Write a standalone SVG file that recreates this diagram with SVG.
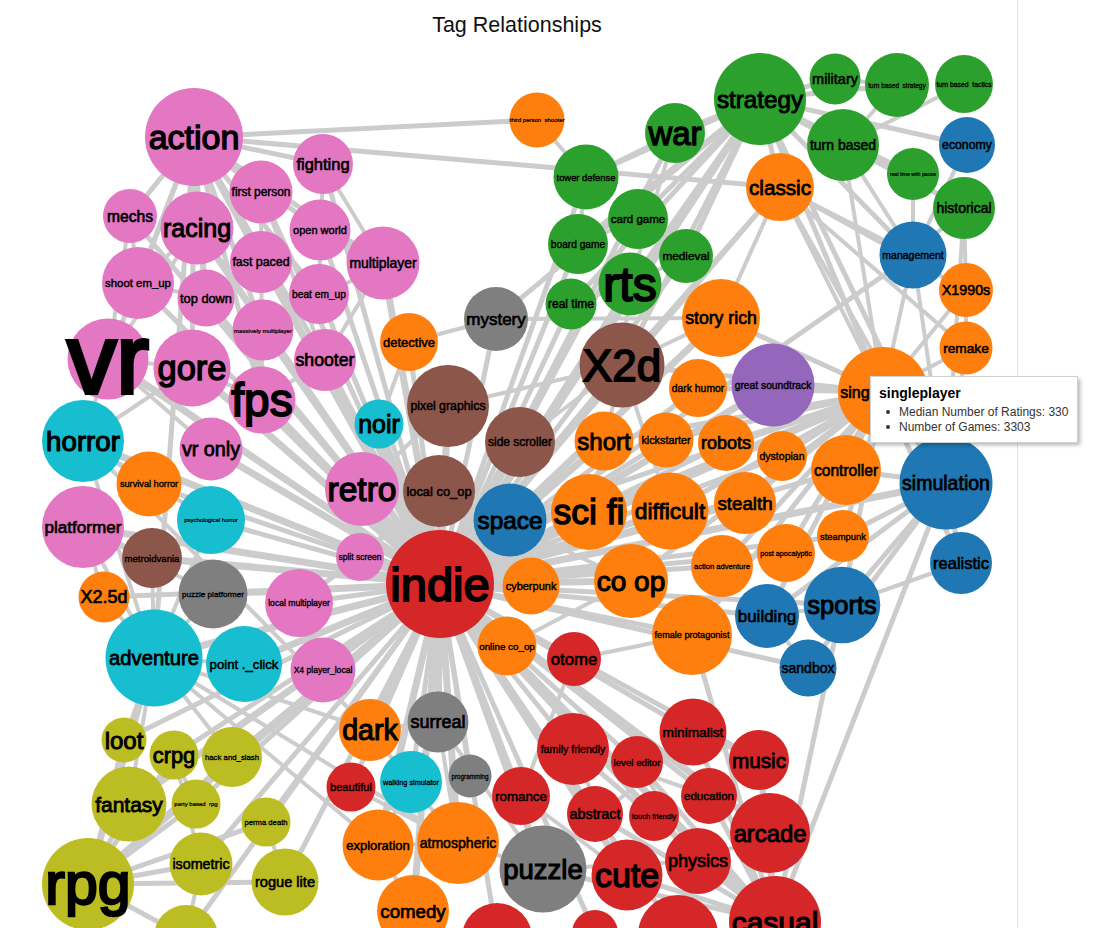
<svg xmlns="http://www.w3.org/2000/svg" width="1096" height="928" viewBox="0 0 1096 928">
<style>
text{font-family:"Liberation Sans",Arial,Helvetica,sans-serif;text-anchor:middle;dominant-baseline:central;fill:#000;stroke:#000;stroke-width:0.04em}
#links line{stroke:#ccc;fill:none}
.l1{stroke-width:7}.l2{stroke-width:5}.l3{stroke-width:4}
.pk circle{fill:#e377c2}.cy circle{fill:#17becf}.br circle{fill:#8c564b}.gy circle{fill:#7f7f7f}
.or circle{fill:#ff7f0e}.gr circle{fill:#2ca02c}.bl circle{fill:#1f77b4}.pu circle{fill:#9467bd}
.rd circle{fill:#d62728}.ol circle{fill:#bcbd22}
.tt text{text-anchor:start;dominant-baseline:auto;stroke:none}
</style>
<defs><filter id="blur" x="-10%" y="-20%" width="120%" height="140%"><feGaussianBlur stdDeviation="2"/></filter></defs>
<rect width="1096" height="928" fill="#fff"/>
<line x1="1017.5" y1="0" x2="1017.5" y2="928" stroke="#e3e3e3" stroke-width="1"/>
<text x="517" y="25" style="font-size:21.5px;stroke:none;fill:#111">Tag Relationships</text>
<g id="links">
<line class="l1" x1="440" y1="584" x2="108" y2="359"/>
<line class="l1" x1="440" y1="584" x2="83" y2="441"/>
<line class="l1" x1="440" y1="584" x2="83" y2="527"/>
<line class="l1" x1="440" y1="584" x2="154" y2="658"/>
<line class="l1" x1="440" y1="584" x2="194" y2="137"/>
<line class="l1" x1="440" y1="584" x2="192" y2="368"/>
<line class="l1" x1="440" y1="584" x2="262" y2="400"/>
<line class="l1" x1="440" y1="584" x2="362" y2="489"/>
<line class="l1" x1="440" y1="584" x2="448" y2="406"/>
<line class="l1" x1="440" y1="584" x2="622" y2="365"/>
<line class="l1" x1="440" y1="584" x2="510" y2="520"/>
<line class="l1" x1="440" y1="584" x2="589" y2="512"/>
<line class="l1" x1="440" y1="584" x2="604" y2="441"/>
<line class="l1" x1="440" y1="584" x2="670" y2="511"/>
<line class="l1" x1="440" y1="584" x2="631" y2="581"/>
<line class="l1" x1="440" y1="584" x2="883" y2="392"/>
<line class="l1" x1="440" y1="584" x2="946" y2="483"/>
<line class="l1" x1="440" y1="584" x2="775" y2="922"/>
<line class="l1" x1="440" y1="584" x2="543" y2="869"/>
<line class="l1" x1="440" y1="584" x2="627" y2="875"/>
<line class="l1" x1="440" y1="584" x2="458" y2="843"/>
<line class="l1" x1="440" y1="584" x2="370" y2="730"/>
<line class="l1" x1="440" y1="584" x2="88" y2="884"/>
<line class="l1" x1="440" y1="584" x2="760" y2="99"/>
<line class="l1" x1="440" y1="584" x2="721" y2="318"/>
<line class="l1" x1="440" y1="584" x2="773" y2="385"/>
<line class="l1" x1="440" y1="584" x2="439" y2="491"/>
<line class="l1" x1="440" y1="584" x2="520" y2="442"/>
<line class="l1" x1="440" y1="584" x2="152" y2="558"/>
<line class="l1" x1="440" y1="584" x2="244" y2="664"/>
<line class="l1" x1="440" y1="584" x2="213" y2="594"/>
<line class="l1" x1="440" y1="584" x2="325" y2="360"/>
<line class="l1" x1="440" y1="584" x2="211" y2="449"/>
<line class="l1" x1="440" y1="584" x2="197" y2="228"/>
<line class="l1" x1="440" y1="584" x2="383" y2="263"/>
<line class="l1" x1="440" y1="584" x2="378" y2="845"/>
<line class="l1" x1="440" y1="584" x2="438" y2="722"/>
<line class="l1" x1="440" y1="584" x2="413" y2="911"/>
<line class="l1" x1="440" y1="584" x2="770" y2="833"/>
<line class="l1" x1="440" y1="584" x2="129" y2="804"/>
<line class="l2" x1="440" y1="584" x2="211" y2="520"/>
<line class="l2" x1="440" y1="584" x2="149" y2="484"/>
<line class="l2" x1="440" y1="584" x2="104" y2="597"/>
<line class="l2" x1="440" y1="584" x2="360" y2="557"/>
<line class="l2" x1="440" y1="584" x2="299" y2="603"/>
<line class="l2" x1="440" y1="584" x2="323" y2="670"/>
<line class="l2" x1="440" y1="584" x2="379" y2="424"/>
<line class="l2" x1="440" y1="584" x2="409" y2="342"/>
<line class="l2" x1="440" y1="584" x2="496" y2="319"/>
<line class="l2" x1="440" y1="584" x2="571" y2="304"/>
<line class="l2" x1="440" y1="584" x2="630" y2="284"/>
<line class="l2" x1="440" y1="584" x2="638" y2="219"/>
<line class="l2" x1="440" y1="584" x2="578" y2="244"/>
<line class="l2" x1="440" y1="584" x2="586" y2="177"/>
<line class="l2" x1="440" y1="584" x2="531" y2="586"/>
<line class="l2" x1="440" y1="584" x2="507" y2="646"/>
<line class="l2" x1="440" y1="584" x2="574" y2="659"/>
<line class="l2" x1="440" y1="584" x2="692" y2="635"/>
<line class="l2" x1="440" y1="584" x2="666" y2="440"/>
<line class="l2" x1="440" y1="584" x2="726" y2="443"/>
<line class="l2" x1="440" y1="584" x2="698" y2="388"/>
<line class="l2" x1="440" y1="584" x2="745" y2="503"/>
<line class="l2" x1="440" y1="584" x2="722" y2="566"/>
<line class="l2" x1="440" y1="584" x2="786" y2="553"/>
<line class="l2" x1="440" y1="584" x2="782" y2="456"/>
<line class="l2" x1="440" y1="584" x2="846" y2="470"/>
<line class="l2" x1="440" y1="584" x2="843" y2="536"/>
<line class="l2" x1="440" y1="584" x2="767" y2="616"/>
<line class="l2" x1="440" y1="584" x2="842" y2="605"/>
<line class="l2" x1="440" y1="584" x2="808" y2="668"/>
<line class="l2" x1="440" y1="584" x2="351" y2="787"/>
<line class="l2" x1="440" y1="584" x2="411" y2="782"/>
<line class="l2" x1="440" y1="584" x2="470" y2="776"/>
<line class="l2" x1="440" y1="584" x2="573" y2="749"/>
<line class="l2" x1="440" y1="584" x2="521" y2="796"/>
<line class="l2" x1="440" y1="584" x2="595" y2="814"/>
<line class="l2" x1="440" y1="584" x2="693" y2="732"/>
<line class="l2" x1="440" y1="584" x2="759" y2="760"/>
<line class="l2" x1="440" y1="584" x2="698" y2="861"/>
<line class="l2" x1="440" y1="584" x2="637" y2="762"/>
<line class="l2" x1="440" y1="584" x2="709" y2="796"/>
<line class="l2" x1="440" y1="584" x2="654" y2="816"/>
<line class="l2" x1="440" y1="584" x2="124" y2="740"/>
<line class="l2" x1="440" y1="584" x2="174" y2="755"/>
<line class="l2" x1="440" y1="584" x2="232" y2="757"/>
<line class="l2" x1="440" y1="584" x2="201" y2="864"/>
<line class="l2" x1="440" y1="584" x2="285" y2="882"/>
<line class="l2" x1="440" y1="584" x2="266" y2="822"/>
<line class="l2" x1="440" y1="584" x2="196" y2="804"/>
<line class="l2" x1="440" y1="584" x2="138" y2="283"/>
<line class="l2" x1="440" y1="584" x2="206" y2="298"/>
<line class="l2" x1="440" y1="584" x2="261" y2="192"/>
<line class="l2" x1="440" y1="584" x2="261" y2="262"/>
<line class="l2" x1="440" y1="584" x2="320" y2="230"/>
<line class="l2" x1="440" y1="584" x2="319" y2="294"/>
<line class="l2" x1="440" y1="584" x2="263" y2="330"/>
<line class="l2" x1="440" y1="584" x2="130" y2="216"/>
<line class="l2" x1="440" y1="584" x2="323" y2="164"/>
<line class="l2" x1="440" y1="584" x2="780" y2="187"/>
<line class="l2" x1="440" y1="584" x2="913" y2="255"/>
<line class="l2" x1="440" y1="584" x2="675" y2="133"/>
<line class="l2" x1="440" y1="584" x2="686" y2="256"/>
<line class="l2" x1="440" y1="584" x2="497" y2="938"/>
<line class="l2" x1="440" y1="584" x2="595" y2="933"/>
<line class="l2" x1="440" y1="584" x2="678" y2="935"/>
<line class="l2" x1="440" y1="584" x2="186" y2="937"/>
<line class="l2" x1="194" y1="137" x2="197" y2="228"/>
<line class="l2" x1="194" y1="137" x2="130" y2="216"/>
<line class="l2" x1="194" y1="137" x2="261" y2="192"/>
<line class="l2" x1="194" y1="137" x2="323" y2="164"/>
<line class="l2" x1="194" y1="137" x2="138" y2="283"/>
<line class="l2" x1="194" y1="137" x2="206" y2="298"/>
<line class="l2" x1="194" y1="137" x2="261" y2="262"/>
<line class="l2" x1="194" y1="137" x2="320" y2="230"/>
<line class="l2" x1="194" y1="137" x2="319" y2="294"/>
<line class="l2" x1="194" y1="137" x2="263" y2="330"/>
<line class="l2" x1="194" y1="137" x2="325" y2="360"/>
<line class="l2" x1="194" y1="137" x2="383" y2="263"/>
<line class="l2" x1="194" y1="137" x2="262" y2="400"/>
<line class="l2" x1="194" y1="137" x2="192" y2="368"/>
<line class="l2" x1="194" y1="137" x2="108" y2="359"/>
<line class="l2" x1="194" y1="137" x2="537" y2="120"/>
<line class="l2" x1="194" y1="137" x2="780" y2="187"/>
<line class="l2" x1="194" y1="137" x2="154" y2="658"/>
<line class="l3" x1="197" y1="228" x2="138" y2="283"/>
<line class="l3" x1="197" y1="228" x2="206" y2="298"/>
<line class="l3" x1="197" y1="228" x2="108" y2="359"/>
<line class="l3" x1="130" y1="216" x2="138" y2="283"/>
<line class="l3" x1="130" y1="216" x2="108" y2="359"/>
<line class="l3" x1="261" y1="192" x2="262" y2="400"/>
<line class="l3" x1="261" y1="192" x2="325" y2="360"/>
<line class="l3" x1="261" y1="262" x2="206" y2="298"/>
<line class="l3" x1="138" y1="283" x2="206" y2="298"/>
<line class="l3" x1="138" y1="283" x2="108" y2="359"/>
<line class="l3" x1="323" y1="164" x2="319" y2="294"/>
<line class="l3" x1="323" y1="164" x2="383" y2="263"/>
<line class="l3" x1="320" y1="230" x2="383" y2="263"/>
<line class="l3" x1="263" y1="330" x2="383" y2="263"/>
<line class="l3" x1="325" y1="360" x2="262" y2="400"/>
<line class="l3" x1="325" y1="360" x2="383" y2="263"/>
<line class="l3" x1="192" y1="368" x2="108" y2="359"/>
<line class="l3" x1="192" y1="368" x2="262" y2="400"/>
<line class="l3" x1="108" y1="359" x2="211" y2="449"/>
<line class="l3" x1="108" y1="359" x2="83" y2="441"/>
<line class="l3" x1="83" y1="441" x2="149" y2="484"/>
<line class="l3" x1="83" y1="441" x2="211" y2="520"/>
<line class="l3" x1="192" y1="368" x2="83" y2="441"/>
<line class="l3" x1="83" y1="527" x2="152" y2="558"/>
<line class="l3" x1="83" y1="527" x2="213" y2="594"/>
<line class="l3" x1="83" y1="527" x2="104" y2="597"/>
<line class="l3" x1="83" y1="527" x2="154" y2="658"/>
<line class="l3" x1="83" y1="441" x2="154" y2="658"/>
<line class="l3" x1="154" y1="658" x2="244" y2="664"/>
<line class="l3" x1="154" y1="658" x2="213" y2="594"/>
<line class="l3" x1="154" y1="658" x2="104" y2="597"/>
<line class="l3" x1="154" y1="658" x2="152" y2="558"/>
<line class="l3" x1="154" y1="658" x2="211" y2="520"/>
<line class="l3" x1="299" y1="603" x2="360" y2="557"/>
<line class="l3" x1="299" y1="603" x2="323" y2="670"/>
<line class="l3" x1="439" y1="491" x2="360" y2="557"/>
<line class="l3" x1="439" y1="491" x2="299" y2="603"/>
<line class="l3" x1="631" y1="581" x2="507" y2="646"/>
<line class="l3" x1="631" y1="581" x2="439" y2="491"/>
<line class="l3" x1="362" y1="489" x2="448" y2="406"/>
<line class="l3" x1="448" y1="406" x2="622" y2="365"/>
<line class="l3" x1="622" y1="365" x2="520" y2="442"/>
<line class="l3" x1="496" y1="319" x2="409" y2="342"/>
<line class="l3" x1="379" y1="424" x2="409" y2="342"/>
<line class="l3" x1="496" y1="319" x2="721" y2="318"/>
<line class="l3" x1="622" y1="365" x2="630" y2="284"/>
<line class="l3" x1="622" y1="365" x2="721" y2="318"/>
<line class="l3" x1="622" y1="365" x2="589" y2="512"/>
<line class="l3" x1="622" y1="365" x2="670" y2="511"/>
<line class="l2" x1="760" y1="99" x2="675" y2="133"/>
<line class="l2" x1="760" y1="99" x2="835" y2="79"/>
<line class="l2" x1="760" y1="99" x2="897" y2="85"/>
<line class="l2" x1="760" y1="99" x2="843" y2="145"/>
<line class="l2" x1="760" y1="99" x2="586" y2="177"/>
<line class="l2" x1="760" y1="99" x2="638" y2="219"/>
<line class="l2" x1="760" y1="99" x2="578" y2="244"/>
<line class="l2" x1="760" y1="99" x2="686" y2="256"/>
<line class="l2" x1="760" y1="99" x2="630" y2="284"/>
<line class="l2" x1="760" y1="99" x2="571" y2="304"/>
<line class="l2" x1="760" y1="99" x2="913" y2="174"/>
<line class="l2" x1="760" y1="99" x2="964" y2="208"/>
<line class="l2" x1="760" y1="99" x2="967" y2="145"/>
<line class="l2" x1="760" y1="99" x2="913" y2="255"/>
<line class="l2" x1="760" y1="99" x2="780" y2="187"/>
<line class="l2" x1="760" y1="99" x2="946" y2="483"/>
<line class="l2" x1="760" y1="99" x2="883" y2="392"/>
<line class="l2" x1="760" y1="99" x2="622" y2="365"/>
<line class="l2" x1="760" y1="99" x2="496" y2="319"/>
<line class="l3" x1="675" y1="133" x2="586" y2="177"/>
<line class="l3" x1="675" y1="133" x2="630" y2="284"/>
<line class="l3" x1="537" y1="120" x2="586" y2="177"/>
<line class="l3" x1="835" y1="79" x2="897" y2="85"/>
<line class="l3" x1="843" y1="145" x2="897" y2="85"/>
<line class="l3" x1="843" y1="145" x2="964" y2="84"/>
<line class="l3" x1="843" y1="145" x2="913" y2="174"/>
<line class="l3" x1="843" y1="145" x2="913" y2="255"/>
<line class="l3" x1="843" y1="145" x2="964" y2="208"/>
<line class="l3" x1="843" y1="145" x2="883" y2="392"/>
<line class="l3" x1="913" y1="174" x2="913" y2="255"/>
<line class="l3" x1="964" y1="208" x2="913" y2="255"/>
<line class="l3" x1="964" y1="208" x2="966" y2="290"/>
<line class="l3" x1="964" y1="208" x2="946" y2="483"/>
<line class="l3" x1="967" y1="145" x2="913" y2="255"/>
<line class="l3" x1="638" y1="219" x2="578" y2="244"/>
<line class="l3" x1="630" y1="284" x2="571" y2="304"/>
<line class="l3" x1="686" y1="256" x2="630" y2="284"/>
<line class="l3" x1="586" y1="177" x2="578" y2="244"/>
<line class="l3" x1="966" y1="290" x2="966" y2="348"/>
<line class="l3" x1="966" y1="290" x2="883" y2="392"/>
<line class="l3" x1="966" y1="348" x2="883" y2="392"/>
<line class="l3" x1="966" y1="348" x2="946" y2="483"/>
<line class="l3" x1="780" y1="187" x2="913" y2="255"/>
<line class="l3" x1="780" y1="187" x2="883" y2="392"/>
<line class="l3" x1="780" y1="187" x2="946" y2="483"/>
<line class="l3" x1="780" y1="187" x2="622" y2="365"/>
<line class="l3" x1="780" y1="187" x2="966" y2="348"/>
<line class="l3" x1="780" y1="187" x2="966" y2="290"/>
<line class="l3" x1="780" y1="187" x2="721" y2="318"/>
<line class="l3" x1="913" y1="255" x2="883" y2="392"/>
<line class="l3" x1="913" y1="255" x2="946" y2="483"/>
<line class="l2" x1="883" y1="392" x2="721" y2="318"/>
<line class="l2" x1="883" y1="392" x2="773" y2="385"/>
<line class="l2" x1="883" y1="392" x2="698" y2="388"/>
<line class="l2" x1="883" y1="392" x2="604" y2="441"/>
<line class="l2" x1="883" y1="392" x2="726" y2="443"/>
<line class="l2" x1="883" y1="392" x2="670" y2="511"/>
<line class="l2" x1="883" y1="392" x2="589" y2="512"/>
<line class="l2" x1="883" y1="392" x2="622" y2="365"/>
<line class="l2" x1="883" y1="392" x2="510" y2="520"/>
<line class="l2" x1="883" y1="392" x2="846" y2="470"/>
<line class="l2" x1="883" y1="392" x2="745" y2="503"/>
<line class="l2" x1="883" y1="392" x2="946" y2="483"/>
<line class="l2" x1="883" y1="392" x2="842" y2="605"/>
<line class="l2" x1="883" y1="392" x2="961" y2="563"/>
<line class="l2" x1="883" y1="392" x2="782" y2="456"/>
<line class="l2" x1="883" y1="392" x2="666" y2="440"/>
<line class="l2" x1="883" y1="392" x2="843" y2="536"/>
<line class="l2" x1="883" y1="392" x2="767" y2="616"/>
<line class="l2" x1="883" y1="392" x2="786" y2="553"/>
<line class="l2" x1="883" y1="392" x2="722" y2="566"/>
<line class="l2" x1="883" y1="392" x2="631" y2="581"/>
<line class="l2" x1="883" y1="392" x2="692" y2="635"/>
<line class="l2" x1="946" y1="483" x2="961" y2="563"/>
<line class="l2" x1="946" y1="483" x2="842" y2="605"/>
<line class="l2" x1="946" y1="483" x2="767" y2="616"/>
<line class="l2" x1="946" y1="483" x2="808" y2="668"/>
<line class="l2" x1="946" y1="483" x2="775" y2="922"/>
<line class="l2" x1="946" y1="483" x2="846" y2="470"/>
<line class="l2" x1="946" y1="483" x2="843" y2="536"/>
<line class="l2" x1="842" y1="605" x2="775" y2="922"/>
<line class="l3" x1="842" y1="605" x2="767" y2="616"/>
<line class="l3" x1="842" y1="605" x2="961" y2="563"/>
<line class="l3" x1="767" y1="616" x2="808" y2="668"/>
<line class="l2" x1="775" y1="922" x2="543" y2="869"/>
<line class="l2" x1="775" y1="922" x2="627" y2="875"/>
<line class="l2" x1="775" y1="922" x2="770" y2="833"/>
<line class="l2" x1="775" y1="922" x2="759" y2="760"/>
<line class="l2" x1="775" y1="922" x2="698" y2="861"/>
<line class="l2" x1="775" y1="922" x2="693" y2="732"/>
<line class="l2" x1="775" y1="922" x2="573" y2="749"/>
<line class="l2" x1="775" y1="922" x2="709" y2="796"/>
<line class="l2" x1="775" y1="922" x2="654" y2="816"/>
<line class="l2" x1="775" y1="922" x2="595" y2="814"/>
<line class="l2" x1="775" y1="922" x2="637" y2="762"/>
<line class="l2" x1="775" y1="922" x2="692" y2="635"/>
<line class="l3" x1="543" y1="869" x2="595" y2="814"/>
<line class="l3" x1="543" y1="869" x2="698" y2="861"/>
<line class="l3" x1="543" y1="869" x2="693" y2="732"/>
<line class="l3" x1="627" y1="875" x2="573" y2="749"/>
<line class="l3" x1="627" y1="875" x2="521" y2="796"/>
<line class="l3" x1="770" y1="833" x2="759" y2="760"/>
<line class="l3" x1="770" y1="833" x2="698" y2="861"/>
<line class="l3" x1="693" y1="732" x2="759" y2="760"/>
<line class="l3" x1="637" y1="762" x2="698" y2="861"/>
<line class="l3" x1="573" y1="749" x2="709" y2="796"/>
<line class="l3" x1="543" y1="869" x2="458" y2="843"/>
<line class="l3" x1="521" y1="796" x2="574" y2="659"/>
<line class="l3" x1="574" y1="659" x2="692" y2="635"/>
<line class="l3" x1="370" y1="730" x2="438" y2="722"/>
<line class="l3" x1="370" y1="730" x2="458" y2="843"/>
<line class="l3" x1="438" y1="722" x2="458" y2="843"/>
<line class="l3" x1="438" y1="722" x2="411" y2="782"/>
<line class="l3" x1="411" y1="782" x2="378" y2="845"/>
<line class="l3" x1="378" y1="845" x2="458" y2="843"/>
<line class="l3" x1="351" y1="787" x2="458" y2="843"/>
<line class="l3" x1="378" y1="845" x2="154" y2="658"/>
<line class="l3" x1="458" y1="843" x2="154" y2="658"/>
<line class="l3" x1="370" y1="730" x2="83" y2="441"/>
<line class="l3" x1="413" y1="911" x2="378" y2="845"/>
<line class="l3" x1="438" y1="722" x2="543" y2="869"/>
<line class="l3" x1="370" y1="730" x2="154" y2="658"/>
<line class="l2" x1="88" y1="884" x2="124" y2="740"/>
<line class="l2" x1="88" y1="884" x2="174" y2="755"/>
<line class="l2" x1="88" y1="884" x2="129" y2="804"/>
<line class="l2" x1="88" y1="884" x2="232" y2="757"/>
<line class="l2" x1="88" y1="884" x2="196" y2="804"/>
<line class="l2" x1="88" y1="884" x2="201" y2="864"/>
<line class="l2" x1="88" y1="884" x2="285" y2="882"/>
<line class="l2" x1="88" y1="884" x2="266" y2="822"/>
<line class="l2" x1="88" y1="884" x2="186" y2="937"/>
<line class="l2" x1="88" y1="884" x2="154" y2="658"/>
<line class="l3" x1="129" y1="804" x2="154" y2="658"/>
<line class="l3" x1="124" y1="740" x2="154" y2="658"/>
<line class="l3" x1="174" y1="755" x2="201" y2="864"/>
<line class="l3" x1="174" y1="755" x2="196" y2="804"/>
<line class="l3" x1="285" y1="882" x2="266" y2="822"/>
<line class="l3" x1="201" y1="864" x2="186" y2="937"/>
<line class="l3" x1="232" y1="757" x2="154" y2="658"/>
</g>
<g id="nodes">
<g id="n-action" class="pk" transform="translate(194,137)"><circle r="49"/><text style="font-size:34px">action</text></g>
<g id="n-fighting" class="pk" transform="translate(323,164)"><circle r="30"/><text style="font-size:16.5px">fighting</text></g>
<g id="n-first-person" class="pk" transform="translate(261,192)"><circle r="31.5"/><text style="font-size:11.9px">first person</text></g>
<g id="n-mechs" class="pk" transform="translate(130,216)"><circle r="27"/><text style="font-size:15.6px">mechs</text></g>
<g id="n-racing" class="pk" transform="translate(197,228)"><circle r="36.5"/><text style="font-size:25px">racing</text></g>
<g id="n-open-world" class="pk" transform="translate(320,230)"><circle r="30.5"/><text style="font-size:11px">open world</text></g>
<g id="n-fast-paced" class="pk" transform="translate(261,262)"><circle r="31"/><text style="font-size:12.4px">fast paced</text></g>
<g id="n-multiplayer" class="pk" transform="translate(383,263)"><circle r="36.5"/><text style="font-size:13.9px">multiplayer</text></g>
<g id="n-shoot-em-up" class="pk" transform="translate(138,283)"><circle r="36"/><text style="font-size:11.4px">shoot em_up</text></g>
<g id="n-top-down" class="pk" transform="translate(206,298)"><circle r="28.5"/><text style="font-size:12.8px">top down</text></g>
<g id="n-beat-em-up" class="pk" transform="translate(319,294)"><circle r="30"/><text style="font-size:10.2px">beat em_up</text></g>
<g id="n-massively-multiplayer" class="pk" transform="translate(263,330)"><circle r="30.5"/><text style="font-size:6.1px">massively multiplayer</text></g>
<g id="n-vr" class="pk" transform="translate(108,359)"><circle r="40.5"/><text style="font-size:98px">vr</text></g>
<g id="n-gore" class="pk" transform="translate(192,368)"><circle r="38.5"/><text style="font-size:34.5px">gore</text></g>
<g id="n-fps" class="pk" transform="translate(262,400)"><circle r="33.5"/><text style="font-size:46px">fps</text></g>
<g id="n-shooter" class="pk" transform="translate(325,360)"><circle r="31"/><text style="font-size:17.7px">shooter</text></g>
<g id="n-vr-only" class="pk" transform="translate(211,449)"><circle r="31.5"/><text style="font-size:19.8px">vr only</text></g>
<g id="n-platformer" class="pk" transform="translate(83,527)"><circle r="41"/><text style="font-size:17.1px">platformer</text></g>
<g id="n-retro" class="pk" transform="translate(362,489)"><circle r="37"/><text style="font-size:33.6px">retro</text></g>
<g id="n-split-screen" class="pk" transform="translate(360,557)"><circle r="24"/><text style="font-size:8.5px">split screen</text></g>
<g id="n-local-multiplayer" class="pk" transform="translate(299,603)"><circle r="34"/><text style="font-size:8.6px">local multiplayer</text></g>
<g id="n-x4-player-local" class="pk" transform="translate(323,670)"><circle r="32.5"/><text style="font-size:8.6px">X4 player_local</text></g>
<g id="n-horror" class="cy" transform="translate(83,441)"><circle r="41"/><text style="font-size:27.7px">horror</text></g>
<g id="n-psychological-horror" class="cy" transform="translate(211,520)"><circle r="34"/><text style="font-size:6px">psychological horror</text></g>
<g id="n-noir" class="cy" transform="translate(379,424)"><circle r="24.5"/><text style="font-size:25px">noir</text></g>
<g id="n-adventure" class="cy" transform="translate(154,658)"><circle r="48.5"/><text style="font-size:20.2px">adventure</text></g>
<g id="n-point-click" class="cy" transform="translate(244,664)"><circle r="38"/><text style="font-size:13.2px">point ._click</text></g>
<g id="n-walking-simulator" class="cy" transform="translate(411,782)"><circle r="31"/><text style="font-size:7.3px">walking simulator</text></g>
<g id="n-metroidvania" class="br" transform="translate(152,558)"><circle r="30"/><text style="font-size:9.6px">metroidvania</text></g>
<g id="n-pixel-graphics" class="br" transform="translate(448,406)"><circle r="41"/><text style="font-size:12.3px">pixel graphics</text></g>
<g id="n-side-scroller" class="br" transform="translate(520,442)"><circle r="35"/><text style="font-size:12px">side scroller</text></g>
<g id="n-local-co-op" class="br" transform="translate(439,491)"><circle r="36"/><text style="font-size:12.9px">local co_op</text></g>
<g id="n-x2d" class="br" transform="translate(622,365)"><circle r="42.5"/><text style="font-size:44px">X2d</text></g>
<g id="n-mystery" class="gy" transform="translate(496,319)"><circle r="32"/><text style="font-size:17px">mystery</text></g>
<g id="n-puzzle-platformer" class="gy" transform="translate(213,594)"><circle r="34.5"/><text style="font-size:8.1px">puzzle platformer</text></g>
<g id="n-surreal" class="gy" transform="translate(438,722)"><circle r="30.5"/><text style="font-size:18px">surreal</text></g>
<g id="n-programming" class="gy" transform="translate(470,776)"><circle r="21.5"/><text style="font-size:6.3px">programming</text></g>
<g id="n-puzzle" class="gy" transform="translate(543,869)"><circle r="43.5"/><text style="font-size:27.5px">puzzle</text></g>
<g id="n-third-person-shooter" class="or" transform="translate(537,120)"><circle r="27.5"/><text xml:space="preserve" style="font-size:6px">third person  shooter</text></g>
<g id="n-classic" class="or" transform="translate(780,187)"><circle r="34"/><text style="font-size:20.7px">classic</text></g>
<g id="n-x1990s" class="or" transform="translate(966,290)"><circle r="27"/><text style="font-size:14.3px">X1990s</text></g>
<g id="n-remake" class="or" transform="translate(966,348)"><circle r="26.5"/><text style="font-size:13.7px">remake</text></g>
<g id="n-story-rich" class="or" transform="translate(721,318)"><circle r="39"/><text style="font-size:17.7px">story rich</text></g>
<g id="n-dark-humor" class="or" transform="translate(698,388)"><circle r="29"/><text style="font-size:10.4px">dark humor</text></g>
<g id="n-short" class="or" transform="translate(604,441)"><circle r="29.5"/><text style="font-size:24px">short</text></g>
<g id="n-kickstarter" class="or" transform="translate(666,440)"><circle r="27.5"/><text style="font-size:10.8px">kickstarter</text></g>
<g id="n-robots" class="or" transform="translate(726,443)"><circle r="28"/><text style="font-size:18px">robots</text></g>
<g id="n-dystopian" class="or" transform="translate(782,456)"><circle r="25"/><text style="font-size:10.5px">dystopian</text></g>
<g id="n-controller" class="or" transform="translate(846,470)"><circle r="35"/><text style="font-size:15.6px">controller</text></g>
<g id="n-steampunk" class="or" transform="translate(843,536)"><circle r="26"/><text style="font-size:9.4px">steampunk</text></g>
<g id="n-sci-fi" class="or" transform="translate(589,512)"><circle r="38"/><text style="font-size:35.5px">sci fi</text></g>
<g id="n-difficult" class="or" transform="translate(670,511)"><circle r="38.5"/><text style="font-size:22.8px">difficult</text></g>
<g id="n-stealth" class="or" transform="translate(745,503)"><circle r="31"/><text style="font-size:18.7px">stealth</text></g>
<g id="n-co-op" class="or" transform="translate(631,581)"><circle r="37"/><text style="font-size:28px">co op</text></g>
<g id="n-action-adventure" class="or" transform="translate(722,566)"><circle r="31"/><text style="font-size:7.6px">action adventure</text></g>
<g id="n-post-apocalyptic" class="or" transform="translate(786,553)"><circle r="29"/><text style="font-size:7.2px">post apocalyptic</text></g>
<g id="n-female-protagonist" class="or" transform="translate(692,635)"><circle r="40"/><text style="font-size:9.1px">female protagonist</text></g>
<g id="n-cyberpunk" class="or" transform="translate(531,586)"><circle r="28.5"/><text style="font-size:11px">cyberpunk</text></g>
<g id="n-online-co-op" class="or" transform="translate(507,646)"><circle r="29.5"/><text style="font-size:9.8px">online co_op</text></g>
<g id="n-detective" class="or" transform="translate(409,342)"><circle r="29"/><text style="font-size:13px">detective</text></g>
<g id="n-survival-horror" class="or" transform="translate(149,484)"><circle r="32.5"/><text style="font-size:9.2px">survival horror</text></g>
<g id="n-x2-5d" class="or" transform="translate(104,597)"><circle r="25.5"/><text style="font-size:18px">X2.5d</text></g>
<g id="n-dark" class="or" transform="translate(370,730)"><circle r="31"/><text style="font-size:28.6px">dark</text></g>
<g id="n-exploration" class="or" transform="translate(378,845)"><circle r="35.5"/><text style="font-size:13px">exploration</text></g>
<g id="n-atmospheric" class="or" transform="translate(458,843)"><circle r="41"/><text style="font-size:14.1px">atmospheric</text></g>
<g id="n-comedy" class="or" transform="translate(413,911)"><circle r="36"/><text style="font-size:18.7px">comedy</text></g>
<g id="n-strategy" class="gr" transform="translate(760,99)"><circle r="46"/><text style="font-size:24.2px">strategy</text></g>
<g id="n-military" class="gr" transform="translate(835,79)"><circle r="25.5"/><text style="font-size:14.5px">military</text></g>
<g id="n-turn-based-strategy" class="gr" transform="translate(897,85)"><circle r="32"/><text xml:space="preserve" style="font-size:6.5px">turn based  strategy</text></g>
<g id="n-turn-based-tactics" class="gr" transform="translate(964,84)"><circle r="29"/><text xml:space="preserve" style="font-size:6.8px">turn based  tactics</text></g>
<g id="n-war" class="gr" transform="translate(675,133)"><circle r="30"/><text style="font-size:33px">war</text></g>
<g id="n-tower-defense" class="gr" transform="translate(586,177)"><circle r="32.5"/><text style="font-size:9.4px">tower defense</text></g>
<g id="n-turn-based" class="gr" transform="translate(843,145)"><circle r="36"/><text style="font-size:14px">turn based</text></g>
<g id="n-card-game" class="gr" transform="translate(638,219)"><circle r="30"/><text style="font-size:11.5px">card game</text></g>
<g id="n-board-game" class="gr" transform="translate(578,244)"><circle r="30"/><text style="font-size:10.2px">board game</text></g>
<g id="n-medieval" class="gr" transform="translate(686,256)"><circle r="27"/><text style="font-size:11.8px">medieval</text></g>
<g id="n-rts" class="gr" transform="translate(630,284)"><circle r="31.5"/><text style="font-size:48px">rts</text></g>
<g id="n-real-time" class="gr" transform="translate(571,304)"><circle r="25.5"/><text style="font-size:12px">real time</text></g>
<g id="n-real-time-with-pause" class="gr" transform="translate(913,174)"><circle r="26"/><text style="font-size:5.2px">real time with pause</text></g>
<g id="n-historical" class="gr" transform="translate(964,208)"><circle r="31"/><text style="font-size:14px">historical</text></g>
<g id="n-economy" class="bl" transform="translate(967,145)"><circle r="28"/><text style="font-size:12.3px">economy</text></g>
<g id="n-management" class="bl" transform="translate(913,255)"><circle r="33.5"/><text style="font-size:10.5px">management</text></g>
<g id="n-simulation" class="bl" transform="translate(946,483)"><circle r="46.5"/><text style="font-size:19.5px">simulation</text></g>
<g id="n-realistic" class="bl" transform="translate(961,563)"><circle r="31"/><text style="font-size:16.5px">realistic</text></g>
<g id="n-space" class="bl" transform="translate(510,520)"><circle r="36.5"/><text style="font-size:24.4px">space</text></g>
<g id="n-building" class="bl" transform="translate(767,616)"><circle r="32"/><text style="font-size:17px">building</text></g>
<g id="n-sports" class="bl" transform="translate(842,605)"><circle r="38.3"/><text style="font-size:25.5px">sports</text></g>
<g id="n-sandbox" class="bl" transform="translate(808,668)"><circle r="28.5"/><text style="font-size:14px">sandbox</text></g>
<g id="n-great-soundtrack" class="pu" transform="translate(773,385)"><circle r="41.5"/><text style="font-size:10.3px">great soundtrack</text></g>
<g id="n-singleplayer" class="or" transform="translate(883,392)"><circle r="45"/><text style="font-size:16px">singleplayer</text></g>
<g id="n-indie" class="rd" transform="translate(440,584)"><circle r="54"/><text style="font-size:47px">indie</text></g>
<g id="n-otome" class="rd" transform="translate(574,659)"><circle r="27"/><text style="font-size:16.8px">otome</text></g>
<g id="n-family-friendly" class="rd" transform="translate(573,749)"><circle r="36"/><text style="font-size:10.6px">family friendly</text></g>
<g id="n-level-editor" class="rd" transform="translate(637,762)"><circle r="26"/><text style="font-size:9.7px">level editor</text></g>
<g id="n-minimalist" class="rd" transform="translate(693,732)"><circle r="33.5"/><text style="font-size:13.7px">minimalist</text></g>
<g id="n-music" class="rd" transform="translate(759,760)"><circle r="30"/><text style="font-size:20.7px">music</text></g>
<g id="n-romance" class="rd" transform="translate(521,796)"><circle r="29"/><text style="font-size:13.3px">romance</text></g>
<g id="n-abstract" class="rd" transform="translate(595,814)"><circle r="28"/><text style="font-size:14.3px">abstract</text></g>
<g id="n-touch-friendly" class="rd" transform="translate(654,816)"><circle r="25"/><text style="font-size:7.5px">touch friendly</text></g>
<g id="n-education" class="rd" transform="translate(709,796)"><circle r="28"/><text style="font-size:11.5px">education</text></g>
<g id="n-arcade" class="rd" transform="translate(770,833)"><circle r="40"/><text style="font-size:23.8px">arcade</text></g>
<g id="n-physics" class="rd" transform="translate(698,861)"><circle r="33"/><text style="font-size:18px">physics</text></g>
<g id="n-beautiful" class="rd" transform="translate(351,787)"><circle r="24.5"/><text style="font-size:11.1px">beautiful</text></g>
<g id="n-red-a" class="rd" transform="translate(497,938)"><circle r="35"/></g>
<g id="n-red-b" class="rd" transform="translate(595,933)"><circle r="23"/></g>
<g id="n-red-c" class="rd" transform="translate(678,935)"><circle r="40"/></g>
<g id="n-cute" class="rd" transform="translate(627,875)"><circle r="35.5"/><text style="font-size:34px">cute</text></g>
<g id="n-casual" class="rd" transform="translate(775,922)"><circle r="46"/><text style="font-size:30px">casual</text></g>
<g id="n-loot" class="ol" transform="translate(124,740)"><circle r="22.5"/><text style="font-size:24px">loot</text></g>
<g id="n-crpg" class="ol" transform="translate(174,755)"><circle r="24.5"/><text style="font-size:21.8px">crpg</text></g>
<g id="n-hack-and-slash" class="ol" transform="translate(232,757)"><circle r="30"/><text style="font-size:7.8px">hack and_slash</text></g>
<g id="n-fantasy" class="ol" transform="translate(129,804)"><circle r="37.5"/><text style="font-size:21px">fantasy</text></g>
<g id="n-party-based-rpg" class="ol" transform="translate(196,804)"><circle r="24.5"/><text xml:space="preserve" style="font-size:6px">party based  rpg</text></g>
<g id="n-perma-death" class="ol" transform="translate(266,822)"><circle r="24.5"/><text style="font-size:7.7px">perma death</text></g>
<g id="n-rpg" class="ol" transform="translate(88,884)"><circle r="46"/><text style="font-size:59px">rpg</text></g>
<g id="n-isometric" class="ol" transform="translate(201,864)"><circle r="31.5"/><text style="font-size:14.3px">isometric</text></g>
<g id="n-rogue-lite" class="ol" transform="translate(285,882)"><circle r="33.5"/><text style="font-size:14.6px">rogue lite</text></g>
<g id="n-olive-a" class="ol" transform="translate(186,937)"><circle r="32"/></g>
</g>
<g id="tooltip" class="tt">
<rect x="873" y="379" width="207" height="66" fill="#000" opacity="0.3" filter="url(#blur)"/>
<rect x="870.5" y="376.5" width="207" height="66" fill="#fff" stroke="#d0d0d0"/>
<text x="879" y="398" style="font-size:14px;font-weight:bold;fill:#000">singleplayer</text>
<circle cx="888" cy="412" r="2" fill="#333"/>
<circle cx="888" cy="427" r="2" fill="#333"/>
<text x="899" y="416" style="font-size:12px;fill:#333">Median Number of Ratings: 330</text>
<text x="899" y="431" style="font-size:12px;fill:#333">Number of Games: 3303</text>
</g>
</svg>
